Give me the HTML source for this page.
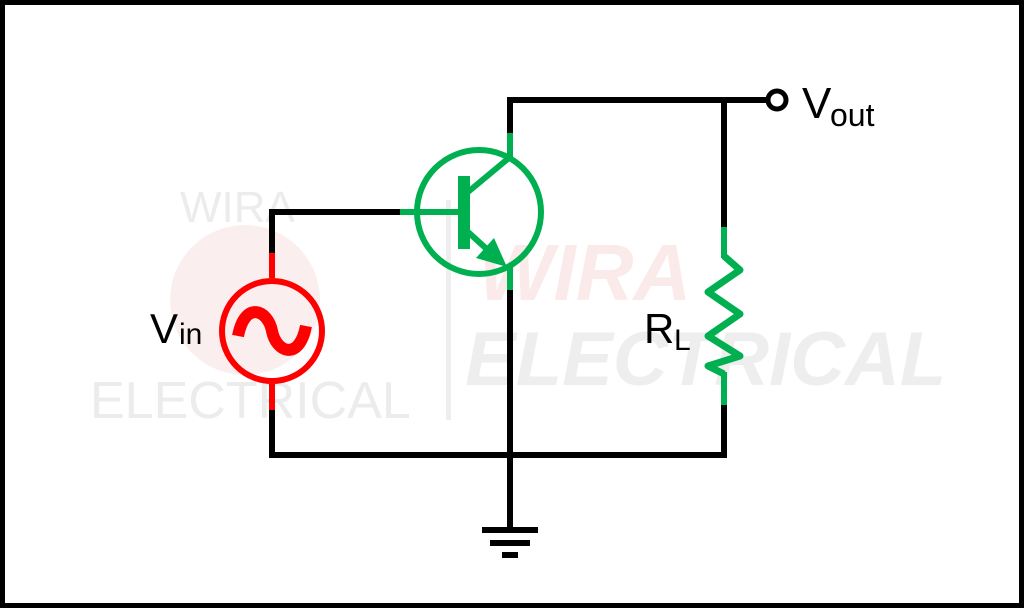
<!DOCTYPE html>
<html><head><style>
html,body{margin:0;padding:0;background:#fff}
svg{display:block}
</style></head><body>
<svg width="1024" height="608" viewBox="0 0 1024 608" xmlns="http://www.w3.org/2000/svg">
<rect x="2.5" y="2.5" width="1019" height="603" fill="#fff" stroke="#000" stroke-width="5"/>
<!-- watermark -->
<g font-family="Liberation Sans, sans-serif" fill="#ececec">
<circle cx="245" cy="300" r="75" fill="#fbeeee"/>
<text x="180" y="222" font-size="44">WIRA</text>
<text x="90" y="418" font-size="52">ELECTRICAL</text>
<rect x="446" y="200" width="5" height="220" fill="#eee"/>
<text x="478" y="300" font-size="80" font-weight="bold" font-style="italic" fill="#fbeaea">WIRA</text>
<text x="465" y="385" font-size="76" font-weight="bold" font-style="italic" fill="#eeeeee">ELECTRICAL</text>
</g>
<g stroke="#000" stroke-width="6" fill="none" stroke-linecap="square">
<polyline points="272,253 272,212 400,212"/>
<polyline points="272,410 272,455 724,455 724,405"/>
<polyline points="510,133 510,100 768,100"/>
<line x1="724" y1="100" x2="724" y2="227"/>
<line x1="510" y1="290" x2="510" y2="528"/>
</g>
<g fill="#000">
<rect x="482" y="527" width="56" height="6"/>
<rect x="490" y="540" width="40" height="6"/>
<rect x="502" y="552" width="16" height="6"/>
</g>
<circle cx="777" cy="100" r="9" fill="#fff" stroke="#000" stroke-width="5"/>
<!-- source -->
<g stroke="#f00" stroke-width="6" fill="none">
<line x1="272" y1="253" x2="272" y2="278"/>
<line x1="272" y1="384" x2="272" y2="410"/>
<circle cx="272" cy="331" r="50"/>
<path d="M238,336 C245,300 268,310 272,331 C276,352 299,362 306,326" stroke-width="12"/>
</g>
<!-- transistor -->
<g stroke="#00b050" stroke-width="6" fill="none">
<circle cx="479" cy="212" r="62"/>
<line x1="400" y1="212" x2="458" y2="212"/>
<line x1="510" y1="133" x2="510" y2="157"/>
<line x1="510" y1="265" x2="510" y2="290"/>
<line x1="468" y1="192" x2="510" y2="157"/>
<line x1="468" y1="232" x2="490" y2="252"/>
<line x1="724" y1="227" x2="724" y2="258"/>
<line x1="724" y1="372" x2="724" y2="405"/>
</g>
<rect x="458" y="176" width="12" height="73" fill="#00b050"/>
<polygon points="507,267 476,258 494,238" fill="#00b050"/>
<polyline points="724,256 740,270 708,292 740,314 708,336 740,356 708,366 724,374" stroke="#00b050" stroke-width="7" fill="none" stroke-linejoin="round"/>
<g font-family="Liberation Sans, sans-serif" fill="#000">
<text x="150" y="343" font-size="42">V</text><text x="179" y="344" font-size="30">in</text>
<text x="644" y="343" font-size="42">R</text><text x="674" y="350" font-size="30">L</text>
<text x="802" y="118" font-size="44">V</text><text x="830" y="126" font-size="32">out</text>
</g>
</svg>
</body></html>
